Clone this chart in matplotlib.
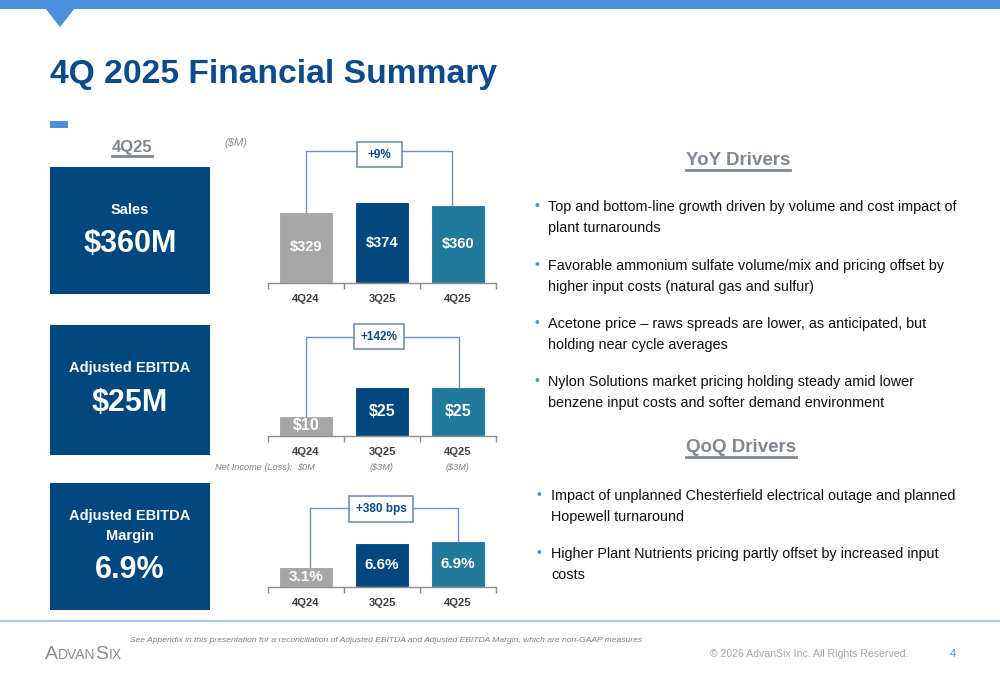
import matplotlib
matplotlib.use("Agg")
import matplotlib.pyplot as plt
from matplotlib.patches import Rectangle, Polygon

# ---------------- data ----------------
categories = ["4Q24", "3Q25", "4Q25"]
sales = [329, 374, 360]
sales_labels = ["$329", "$374", "$360"]
ebitda = [10.3, 25.0, 25.0]
ebitda_labels = ["$10", "$25", "$25"]
margin = [3.1, 6.6, 6.9]
margin_labels = ["3.1%", "6.6%", "6.9%"]
changes = ["+9%", "+142%", "+380 bps"]
net_income = ["$0M", "($3M)", "($3M)"]
kpi_titles = ["Sales", "Adjusted EBITDA", "Adjusted EBITDA\nMargin"]
kpi_values = ["$360M", "$25M", "6.9%"]
yoy_drivers = [
    ["Top and bottom-line growth driven by volume and cost impact of", "plant turnarounds"],
    ["Favorable ammonium sulfate volume/mix and pricing offset by",
     "higher input costs (natural gas and sulfur)"],
    ["Acetone price \u2013 raws spreads are lower, as anticipated, but",
     "holding near cycle averages"],
    ["Nylon Solutions market pricing holding steady amid lower",
     "benzene input costs and softer demand environment"],
]
qoq_drivers = [
    ["Impact of unplanned Chesterfield electrical outage and planned", "Hopewell turnaround"],
    ["Higher Plant Nutrients pricing partly offset by increased input", "costs"],
]

plt.rcParams["font.family"] = ["Liberation Sans", "DejaVu Sans"]

NAVY = "#00467F"
TEAL = "#217A9C"
GREYBAR = "#A6A6A6"
TITLE = "#0B4A8B"
LIGHTBLUE = "#4A90DC"
HEAD_GREY = "#7F8790"
BRACKET = "#7090B8"
bar_colors = [GREYBAR, NAVY, TEAL]

W, H = 1000, 685
fig = plt.figure(figsize=(W / 100, H / 100), dpi=100)
bg = fig.add_axes([0, 0, 1, 1])
bg.set_xlim(0, W)
bg.set_ylim(H, 0)
bg.axis("off")

# header band + triangle
bg.add_patch(Rectangle((0, 0), W, 9, color=LIGHTBLUE, lw=0))
bg.add_patch(Polygon([[45, 8], [75, 8], [60, 27]], closed=True, color=LIGHTBLUE, lw=0))
bg.text(50, 74, "4Q 2025 Financial Summary", fontsize=24.2, fontweight="heavy",
        color=TITLE, ha="left", va="center")
bg.add_patch(Rectangle((50, 121), 18, 7, color=LIGHTBLUE, lw=0))

underline_items = []
t = bg.text(132, 147, "4Q25", fontsize=12, fontweight="bold", color=HEAD_GREY,
            ha="center", va="center")
underline_items.append(t)
bg.text(236, 143, "($M)", fontsize=8, style="italic", color="#8C8C8C", ha="center", va="center")

# KPI boxes
boxes = [(167, 294), (325, 455), (483, 610)]
for (top, bot) in boxes:
    bg.add_patch(Rectangle((50, top), 160, bot - top, color=NAVY, lw=0))
title_y = [210, 368, 526]
value_y = [244, 403, 570]
for ttl, val, ty, vy in zip(kpi_titles, kpi_values, title_y, value_y):
    bg.text(130, ty, ttl, fontsize=10.5, fontweight="bold", color="white",
            ha="center", va="center", linespacing=1.55)
    bg.text(130, vy, val, fontsize=22, fontweight="bold", color="white",
            ha="center", va="center")

# ---------------- bar charts ----------------
AX_L, AX_R = 268, 496
charts = [
    dict(vals=sales, labels=sales_labels, base=283, scale=0.2165, top=130,
         br_y=151, box=(357, 402, 142, 167), legs=(0.0, 1.92), lab_fs=10.5),
    dict(vals=ebitda, labels=ebitda_labels, base=436, scale=1.96, top=316,
         br_y=337, box=(354, 404, 324, 349), legs=(0.0, 2.01), lab_fs=11.5),
    dict(vals=margin, labels=margin_labels, base=587, scale=6.6, top=487,
         br_y=508, box=(349, 413, 496, 522), legs=(0.05, 2.0), lab_fs=11),
]
PX_PER_X = (AX_R - AX_L) / 3.0


def px2x(px):
    return (px - AX_L) / PX_PER_X - 0.5


for c, chg in zip(charts, changes):
    ax = fig.add_axes([AX_L / W, 1 - c["base"] / H, (AX_R - AX_L) / W, (c["base"] - c["top"]) / H])
    ymax = (c["base"] - c["top"]) / c["scale"]
    py2y = lambda py, c=c: (c["base"] - py) / c["scale"]
    x = list(range(len(categories)))
    ax.bar(x, c["vals"], width=0.71, color=bar_colors, edgecolor="white", linewidth=0.8)
    for xi, v, lab in zip(x, c["vals"], c["labels"]):
        ax.text(xi, v / 2, lab, ha="center", va="center", color="white",
                fontsize=c["lab_fs"], fontweight="bold")
    ax.set_xlim(-0.5, 2.5)
    ax.set_ylim(0, ymax)
    ax.patch.set_alpha(0)
    for s in ["top", "right", "left"]:
        ax.spines[s].set_visible(False)
    ax.spines["bottom"].set_color("#8C8C8C")
    ax.spines["bottom"].set_linewidth(1.0)
    ax.set_yticks([])
    ax.set_xticks(x)
    ax.set_xticklabels(categories, fontsize=8, fontweight="bold", color="#404040")
    ax.tick_params(axis="x", which="major", length=0, pad=8)
    ax.set_xticks([-0.5, 0.5, 1.5, 2.5], minor=True)
    ax.tick_params(axis="x", which="minor", length=4, color="#8C8C8C", width=1)
    # bracket
    bl, brx = c["legs"]
    by = py2y(c["br_y"])
    x0, x1, yt, yb = c["box"]
    bxl, bxr = px2x(x0), px2x(x1)
    ax.plot([bl, bl, bxl], [c["vals"][0], by, by], color=BRACKET, lw=1.0, clip_on=False)
    ax.plot([bxr, brx, brx], [by, by, c["vals"][2]], color=BRACKET, lw=1.0, clip_on=False)
    ax.add_patch(Rectangle((bxl, py2y(yb)), bxr - bxl, py2y(yt) - py2y(yb),
                           facecolor="white", edgecolor=BRACKET, lw=1.2, clip_on=False))
    ax.text((bxl + bxr) / 2, (py2y(yt) + py2y(yb)) / 2, chg, ha="center", va="center",
            fontsize=8.5, fontweight="bold", color=TITLE)
    if c is charts[1]:
        for xi, ni in zip(x, net_income):
            ax.text(xi, py2y(467), ni, ha="center", va="center", fontsize=6.6,
                    style="italic", color="#7F7F7F", clip_on=False)
        ax.text(px2x(292), py2y(467), "Net Income (Loss):", ha="right", va="center",
                fontsize=6.6, style="italic", color="#7F7F7F", clip_on=False)

# ---------------- right-hand text ----------------
t = bg.text(738, 160, "YoY Drivers", fontsize=13.5, fontweight="bold", color=HEAD_GREY,
            ha="center", va="center")
underline_items.append(t)
t = bg.text(741, 447, "QoQ Drivers", fontsize=13.5, fontweight="bold", color=HEAD_GREY,
            ha="center", va="center")
underline_items.append(t)

BODY_FS = 10.4
yoy_y = [207, 266, 324, 382]
for lines, yy in zip(yoy_drivers, yoy_y):
    bg.text(537, yy - 1, "\u2022", fontsize=10, color=LIGHTBLUE, ha="center", va="center")
    for k, line in enumerate(lines):
        bg.text(548, yy + 21 * k, line, fontsize=BODY_FS, color="#111111",
                ha="left", va="center")
qoq_y = [496, 554]
for lines, yy in zip(qoq_drivers, qoq_y):
    bg.text(539, yy - 1, "\u2022", fontsize=10, color=LIGHTBLUE, ha="center", va="center")
    for k, line in enumerate(lines):
        bg.text(551, yy + 21 * k, line, fontsize=BODY_FS, color="#111111",
                ha="left", va="center")

# ---------------- footer ----------------
bg.plot([0, W], [621, 621], color="#A9C9EE", lw=1.6)
bg.text(130, 641, "See Appendix in this presentation for a reconciliation of Adjusted EBITDA and "
        "Adjusted EBITDA Margin, which are non-GAAP measures", fontsize=6.1, style="italic",
        color="#7F7F7F", ha="left", va="center")
bg.text(908, 654, "\u00a9 2026 AdvanSix Inc. All Rights Reserved.", fontsize=7.6,
        color="#A6A6A6", ha="right", va="center")
bg.text(953, 654, "4", fontsize=8, color=LIGHTBLUE, ha="center", va="center")

# logo (small caps style), pieces placed one after another
fig.canvas.draw()
r = fig.canvas.get_renderer()
logo = [("A", 14), ("DVAN", 10), ("S", 14), ("IX", 10)]
xx = 45
for s, fs in logo:
    tt = bg.text(xx, 659, s, fontsize=fs, color="#8C8C8C", ha="left", va="baseline")
    bb = tt.get_window_extent(renderer=r)
    xx += bb.width

# underlines
for t in underline_items:
    bb = t.get_window_extent(renderer=r)
    yline = H - bb.y0 + 1
    bg.plot([bb.x0, bb.x1], [yline, yline], color=HEAD_GREY, lw=2)

fig.savefig("out.png", dpi=100)
